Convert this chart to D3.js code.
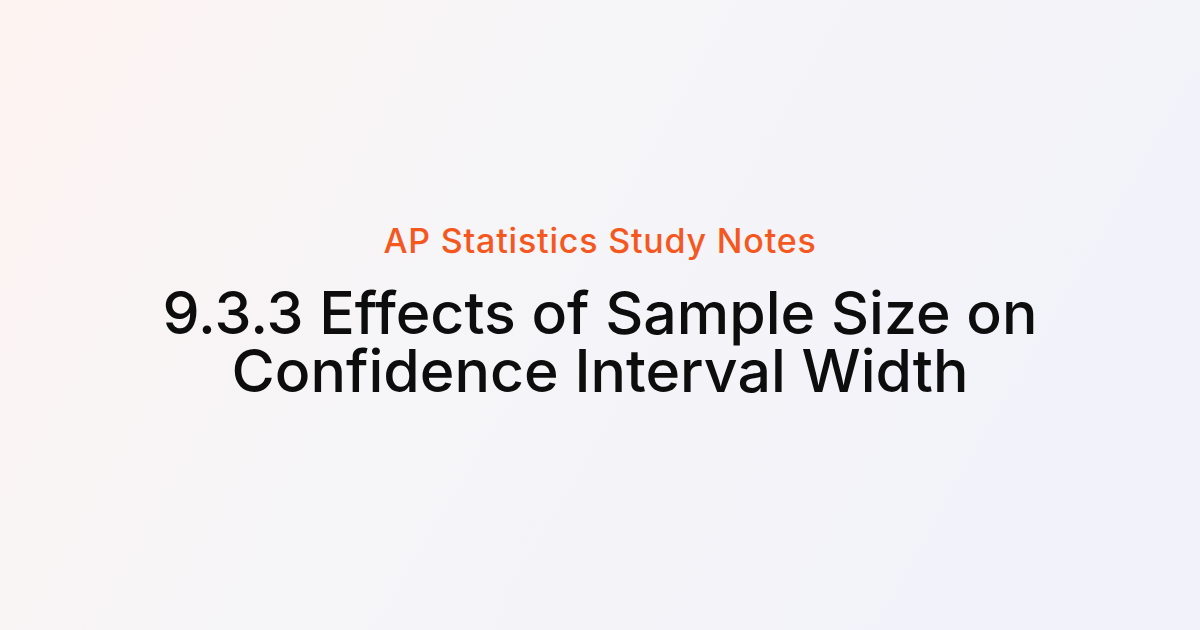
<!DOCTYPE html>
<html><head><meta charset="utf-8">
<script src="https://cdn.jsdelivr.net/npm/d3@7"></script>
<style>html,body{margin:0;padding:0;overflow:hidden}</style>
</head><body>
<script>
const subtitle = ["AP Statistics Study Notes"];
const titleLines = ["9.3.3 Effects of Sample Size on", "Confidence Interval Width"];

const W = 1200, H = 630;
const svg = d3.select("body").append("svg").attr("width", W).attr("height", H);
const defs = svg.append("defs");
const g = defs.append("linearGradient").attr("id","bg").attr("x1","0").attr("y1","0").attr("x2","1").attr("y2","0.3");
g.append("stop").attr("offset","0").attr("stop-color","#fdf3f1");
g.append("stop").attr("offset","0.45").attr("stop-color","#f6f5f7");
g.append("stop").attr("offset","1").attr("stop-color","#f2f2fa");
svg.append("rect").attr("width",W).attr("height",H).attr("fill","url(#bg)");

svg.selectAll("text.sub").data(subtitle).join("text").attr("class","sub")
  .attr("x", W/2).attr("y", 253).attr("text-anchor","middle")
  .attr("font-family","Inter, 'Noto Sans', sans-serif").attr("font-weight",500)
  .attr("font-size",34).attr("letter-spacing","0.8").attr("fill","#f4581f").text(d=>d);

const y = d3.scaleLinear().domain([0,1]).range([334, 392]);
svg.selectAll("text.title").data(titleLines).join("text").attr("class","title")
  .attr("x", W/2).attr("y",(d,i)=>y(i)).attr("text-anchor","middle")
  .attr("font-family","Inter, 'Noto Sans', sans-serif").attr("font-weight",500)
  .attr("font-size",59).attr("letter-spacing","0").attr("fill","#0d0d0d").text(d=>d);
</script>
</body></html>
